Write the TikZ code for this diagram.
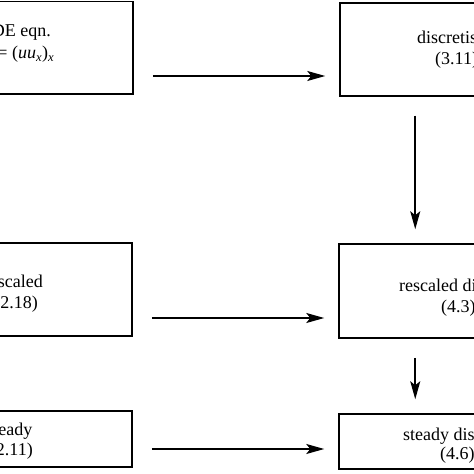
\documentclass[tikz,border=0pt]{standalone}
\usepackage{fontspec}
\setmainfont{Liberation Serif}
\usetikzlibrary{arrows.meta}

\tikzset{
  box/.style={draw, line width=1.5bp, inner sep=0pt},
  lbl/.style={inner sep=0pt, font=\fontsize{18bp}{21bp}\selectfont},
  lblL/.style={lbl, anchor=base east},
  lblR/.style={lbl, anchor=base west},
  arr/.style={line width=1.7bp, -{Stealth[length=18bp, width=10bp, inset=4bp]},
    shorten <=19bp, shorten >=14bp}
}

\begin{document}
\begin{tikzpicture}[x=1bp, y=-1bp]
    \useasboundingbox (0, 0) rectangle (474, 474);
    \clip (0, 0) rectangle (474, 474);
    % PDE eqn.
    \node[box, minimum width=224bp, minimum height=92.5bp](pde) at (21, 47.75){};
    \node[lblL](pde1) at (51, 37){PDE eqn.};
    \node[lblL](pde2) at (54.5, 59){\textit{u}\textsubscript{\textit{t}} =
      (\textit{uu}\textsubscript{\textit{x}})\textsubscript{\textit{x}}};
    % discretised
    \node[box, minimum width=226bp, minimum height=93bp](disc) at (453, 49.5){};
    \node[lblR](disc1) at (417, 44){discretised};
    \node[lblR](disc2) at (435, 65){(3.11)};
    % rescaled
    \node[box, minimum width=230bp, minimum height=93bp](resc) at (17, 289.5){};
    \node[lblL](resc1) at (43, 287){rescaled};
    \node[lblL](resc2) at (38, 308){(2.18)};
    % rescaled discretised
    \node[box, minimum width=226bp, minimum height=94bp](rdisc) at (452, 291){};
    \node[lblR](rdisc1) at (399, 291){rescaled discretised};
    \node[lblR](rdisc2) at (441, 312){(4.3)};
    % steady
    \node[box, minimum width=236bp, minimum height=56bp](stdy) at (14, 439){};
    \node[lblL](stdy1) at (32.5, 435.5){steady};
    \node[lblL](stdy2) at (33, 455){(2.11)};
    % steady discretised
    \node[box, minimum width=226bp, minimum height=55bp](sdisc) at (452, 441.5){};
    \node[lblR](sdisc1) at (403, 440){steady discretised};
    \node[lblR](sdisc2) at (440, 459){(4.6)};

    % arrows
    \path (pde.east) ++(0, 28.25) coordinate (a1s);
    \draw[arr] (a1s) -- (a1s -| disc.west);
    \path (disc.south west) ++(76, 0) coordinate (a2s);
    \draw[arr] (a2s) -- (a2s |- rdisc.north);
    \path (resc.east) ++(0, 28.5) coordinate (a3s);
    \draw[arr] (a3s) -- (a3s -| rdisc.west);
    \path (rdisc.south west) ++(77, 0) coordinate (a4s);
    \draw[arr] (a4s) -- (a4s |- sdisc.north);
    \path (stdy.east) ++(0, 10) coordinate (a5s);
    \draw[arr] (a5s) -- (a5s -| sdisc.west);
  \end{tikzpicture}
\end{document}
